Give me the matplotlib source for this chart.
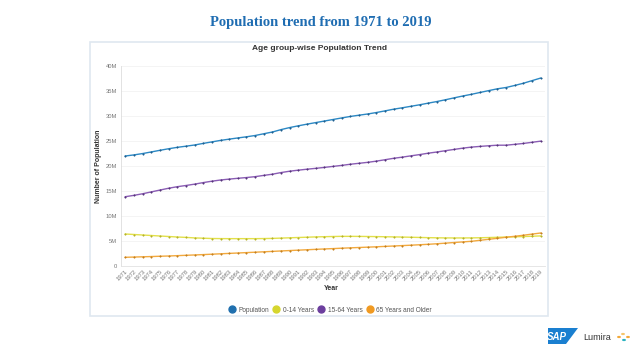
import matplotlib
matplotlib.use('Agg')

import matplotlib.pyplot as plt
import matplotlib.ticker as tkr
from matplotlib.patches import Rectangle, Polygon, Circle

# data (millions)
years = list(range(1971, 2020))

population = [22.00, 22.22, 22.49, 22.81, 23.14, 23.45, 23.73, 23.96, 24.20, 24.52,
              24.82, 25.12, 25.37, 25.61, 25.84, 26.10, 26.45, 26.80, 27.28, 27.69,
              28.04, 28.37, 28.68, 28.99, 29.30, 29.61, 29.91, 30.16, 30.40, 30.69,
              31.02, 31.36, 31.64, 31.94, 32.24, 32.57, 32.89, 33.25, 33.63, 34.00,
              34.34, 34.71, 35.08, 35.44, 35.70, 36.11, 36.55, 37.07, 37.59]

age_0_14 = [6.40, 6.30, 6.20, 6.10, 6.00, 5.90, 5.80, 5.72, 5.62, 5.56,
            5.50, 5.48, 5.47, 5.47, 5.47, 5.47, 5.49, 5.52, 5.58, 5.64,
            5.70, 5.76, 5.82, 5.86, 5.90, 5.93, 5.93, 5.92, 5.90, 5.88,
            5.85, 5.82, 5.79, 5.75, 5.71, 5.67, 5.64, 5.62, 5.61, 5.61,
            5.62, 5.65, 5.69, 5.74, 5.79, 5.84, 5.89, 5.95, 6.02]

age_15_64 = [13.86, 14.13, 14.45, 14.82, 15.19, 15.55, 15.86, 16.10, 16.37, 16.68,
             16.96, 17.20, 17.38, 17.54, 17.69, 17.87, 18.12, 18.36, 18.69, 18.96,
             19.17, 19.36, 19.53, 19.72, 19.92, 20.12, 20.35, 20.54, 20.73, 20.97,
             21.25, 21.54, 21.77, 22.03, 22.28, 22.56, 22.80, 23.06, 23.32, 23.57,
             23.78, 23.92, 24.05, 24.16, 24.16, 24.33, 24.51, 24.74, 24.97]

age_65_up = [1.74, 1.79, 1.84, 1.89, 1.95, 2.00, 2.07, 2.14, 2.21, 2.28,
             2.36, 2.44, 2.52, 2.60, 2.68, 2.76, 2.84, 2.92, 3.01, 3.09,
             3.17, 3.25, 3.33, 3.41, 3.48, 3.56, 3.63, 3.70, 3.77, 3.84,
             3.92, 4.00, 4.08, 4.16, 4.25, 4.34, 4.45, 4.57, 4.70, 4.82,
             4.94, 5.14, 5.34, 5.54, 5.75, 5.94, 6.15, 6.38, 6.60]

series = [
    ('Population', population, '#2b88c4', '#1f5f8f', '#1f6fae'),
    ('0-14 Years', age_0_14, '#e2e04a', '#b5b22a', '#d6d62e'),
    ('15-64 Years', age_15_64, '#8a5cb4', '#56347a', '#6c3e9e'),
    ('65 Years and Older', age_65_up, '#f2a93e', '#c47f1e', '#f09a22'),
]

plt.rcParams['font.family'] = ['Liberation Sans', 'DejaVu Sans']

fig = plt.figure(figsize=(6.38, 3.59), dpi=100)
fig.patch.set_facecolor('white')

# outer title
fig.text(0.502, 0.938, 'Population trend from 1971 to 2019', ha='center', va='center',
         fontsize=10.5, color='#1f6db2', family='Liberation Serif', fontweight='bold')

# panel box
fig.patches.append(Rectangle((90 / 638, 1 - 316 / 359), 458 / 638, 274 / 359,
                             transform=fig.transFigure, facecolor='none',
                             edgecolor='#dfe8f0', linewidth=1.2))

fig.text(0.5, 1 - 48 / 359, 'Age group-wise Population Trend', ha='center', va='center',
         fontsize=6, fontweight='bold', color='#333333')

ax = fig.add_axes([121 / 638, 1 - 266 / 359, 424 / 638, 200 / 359])

for name, vals, col, mcol, _ in series:
    ax.plot(years, vals, color=col, linewidth=1.0, marker='o', markersize=1.1,
            markerfacecolor=mcol, markeredgecolor=mcol, markeredgewidth=0.3,
            label=name, zorder=3)

ax.set_xlim(1970.5, 2019.5)
ax.set_ylim(0, 40)
ax.yaxis.set_major_locator(tkr.MultipleLocator(5))
ax.yaxis.set_major_formatter(tkr.FuncFormatter(lambda v, p: '0' if v == 0 else '%dM' % v))
ax.set_xticks(years)
ax.set_xticklabels([str(y) for y in years], rotation=45, ha='right', rotation_mode='anchor')
ax.tick_params(axis='both', length=0, labelsize=4.2, colors='#777777')
ax.tick_params(axis='x', pad=2)
ax.tick_params(axis='y', pad=3)
ax.grid(axis='y', color='#f3f3f3', linewidth=0.6)
for s in ['top', 'right']:
    ax.spines[s].set_visible(False)
ax.spines['left'].set_color('#dddddd')
ax.spines['left'].set_linewidth(0.6)
ax.spines['bottom'].set_color('#e2e2e2')
ax.spines['bottom'].set_linewidth(0.6)
ax.spines['bottom'].set_linestyle((0, (1, 1)))

fig.text(98 / 638, 1 - 166 / 359, 'Number of Population', rotation=90, ha='center', va='center',
         fontsize=5, fontweight='bold', color='#333333')
fig.text(331 / 638, 1 - 289 / 359, 'Year', ha='center', va='center',
         fontsize=5, fontweight='bold', color='#333333')

handles = [plt.Line2D([], [], linestyle='none', marker='o', markersize=5,
                      markerfacecolor=s[4], markeredgecolor=s[4]) for s in series]
fig.legend(handles, [s[0] for s in series], loc='center', bbox_to_anchor=(0.518, 1 - 310 / 359),
           ncol=4, frameon=False, fontsize=4.7, handletextpad=0.6, columnspacing=0.7,
           handlelength=0.8, labelcolor='#555555')

# SAP Lumira logo
sap = Polygon([(548 / 638, 1 - 328 / 359), (578 / 638, 1 - 328 / 359),
               (566 / 638, 1 - 344 / 359), (548 / 638, 1 - 344 / 359)],
              closed=True, transform=fig.transFigure, facecolor='#1a7fd0', edgecolor='none')
fig.patches.append(sap)
fig.text(557 / 638, 1 - 336.5 / 359, 'SAP', ha='center', va='center', fontsize=7,
         fontweight='bold', color='white', fontstyle='italic')
fig.text(583 / 638, 1 - 338 / 359, 'Lumira', ha='left', va='center', fontsize=6.5, color='#333333')
for cx, cy, c in [(619, 337, '#f2a93b'), (623, 334, '#f7c56b'), (624, 340, '#2bb3c0'), (628, 337, '#f2a93b')]:
    fig.patches.append(Circle((cx / 638, 1 - cy / 359), 2.0 / 638, transform=fig.transFigure,
                              facecolor=c, edgecolor='none'))

plt.savefig('out.png', dpi=100)
